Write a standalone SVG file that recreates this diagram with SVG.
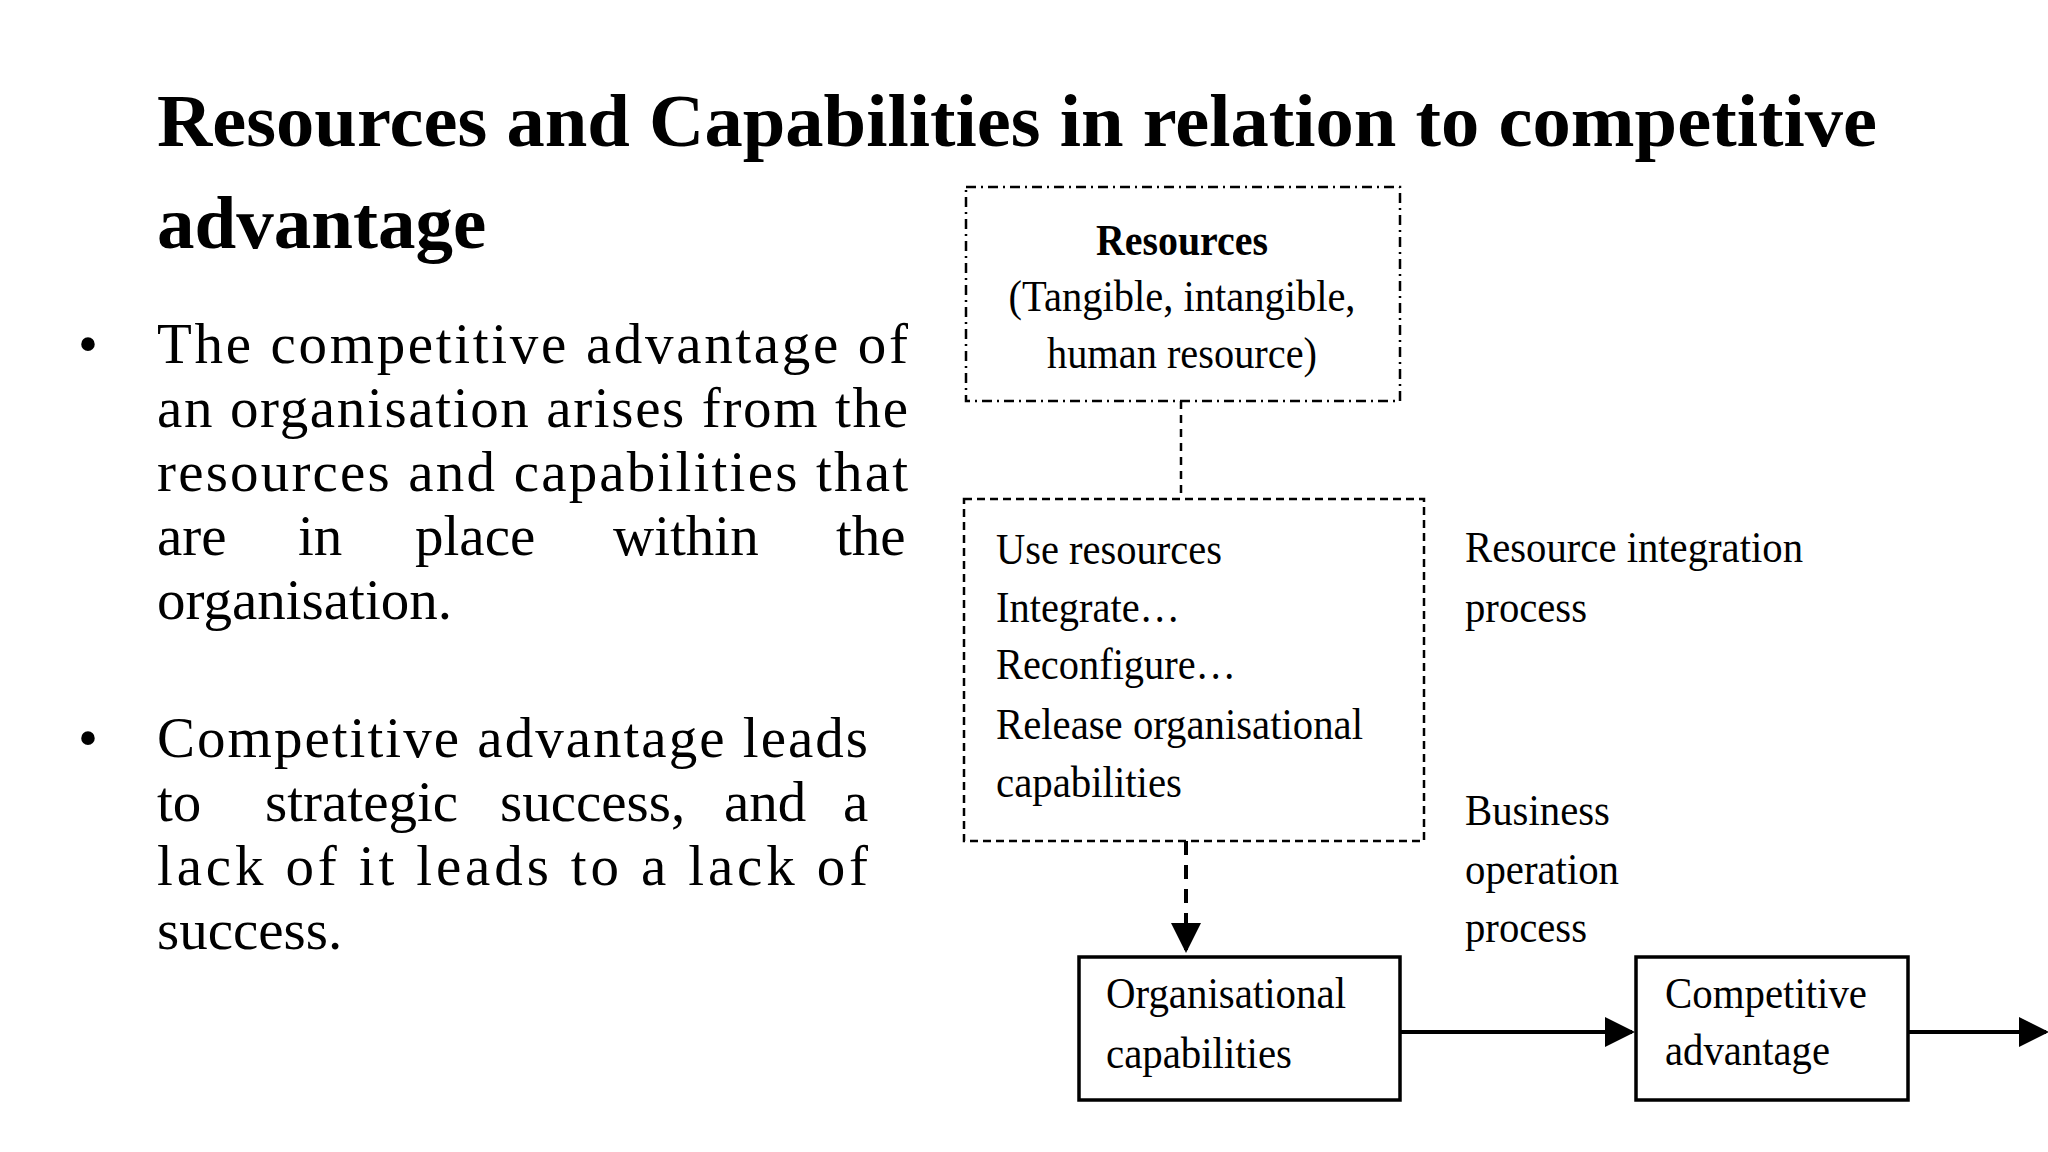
<svg xmlns="http://www.w3.org/2000/svg" width="2048" height="1152" viewBox="0 0 2048 1152">
<style>
.t{font-family:"Liberation Serif",serif;fill:#000}
.title{font-size:75px;font-weight:bold}
.body{font-size:57px}
.d{font-size:44px}
.box{fill:none;stroke:#000}
</style>
<defs>
<marker id="ah2" viewBox="0 0 10 10" refX="9" refY="5" markerWidth="30" markerHeight="30" orient="auto" markerUnits="userSpaceOnUse"><path d="M0,0L10,5L0,10z" fill="#000"/></marker></defs>
<rect width="2048" height="1152" fill="#fff"/>
<g id="title"><text class="t title" x="157" y="146" textLength="1720" lengthAdjust="spacingAndGlyphs">Resources and Capabilities in relation to competitive</text><text class="t title" x="157" y="248">advantage</text></g>
<g id="bullets">
<text class="t body" x="78" y="363">•</text>
<text class="t body" x="157" y="363" textLength="751" lengthAdjust="spacing">The competitive advantage of</text>
<text class="t body" x="157" y="427" textLength="751" lengthAdjust="spacing">an  organisation arises from the</text>
<text class="t body" x="157" y="491" textLength="751" lengthAdjust="spacing">resources and capabilities that</text>
<text class="t body" y="555"><tspan x="157">are</tspan><tspan x="298">in</tspan><tspan x="415">place</tspan><tspan x="613">within</tspan><tspan x="836">the</tspan></text>
<text class="t body" x="157" y="619">organisation.</text>
<text class="t body" x="78" y="757">•</text>
<text class="t body" x="157" y="757" textLength="711" lengthAdjust="spacing">Competitive advantage leads</text>
<text class="t body" y="821"><tspan x="157">to</tspan><tspan x="265">strategic</tspan><tspan x="500">success,</tspan><tspan x="724">and</tspan><tspan x="843">a</tspan></text>
<text class="t body" x="157" y="885" textLength="711" lengthAdjust="spacing">lack of it  leads to a lack of</text>
<text class="t body" x="157" y="949">success.</text>
</g>
<g id="connectors" stroke="#000" fill="none">
<line x1="1181" y1="401" x2="1181" y2="499" stroke-width="2.5" stroke-dasharray="8,6"/>
<line x1="1186" y1="841" x2="1186" y2="950" stroke-width="4" stroke-dasharray="14,10" marker-end="url(#ah2)"/>
<line x1="1400" y1="1032" x2="1632" y2="1032" stroke-width="4" marker-end="url(#ah2)"/>
<line x1="1908" y1="1032" x2="2046" y2="1032" stroke-width="4" marker-end="url(#ah2)"/>
</g>
<g id="resources"><rect class="box" x="966" y="187" width="434" height="214" stroke-width="2.5" stroke-dasharray="10,5,2,5"/>
<text class="t d" x="1182" y="255" text-anchor="middle" font-weight="bold" textLength="172" lengthAdjust="spacingAndGlyphs">Resources</text>
<text class="t d" x="1182" y="311" text-anchor="middle" textLength="347" lengthAdjust="spacingAndGlyphs">(Tangible, intangible,</text>
<text class="t d" x="1182" y="368" text-anchor="middle" textLength="270" lengthAdjust="spacingAndGlyphs">human resource)</text></g>
<g id="process"><rect class="box" x="964" y="499" width="460" height="342" stroke-width="2.5" stroke-dasharray="8,5"/>
<text class="t d" x="996" y="564" textLength="226" lengthAdjust="spacingAndGlyphs">Use resources</text>
<text class="t d" x="996" y="622" textLength="184" lengthAdjust="spacingAndGlyphs">Integrate…</text>
<text class="t d" x="996" y="679" textLength="240" lengthAdjust="spacingAndGlyphs">Reconfigure…</text>
<text class="t d" x="996" y="739" textLength="367" lengthAdjust="spacingAndGlyphs">Release organisational</text>
<text class="t d" x="996" y="797" textLength="186" lengthAdjust="spacingAndGlyphs">capabilities</text></g>
<g id="labels">
<text class="t d" x="1465" y="562" textLength="338" lengthAdjust="spacingAndGlyphs">Resource integration</text>
<text class="t d" x="1465" y="622" textLength="122" lengthAdjust="spacingAndGlyphs">process</text>
<text class="t d" x="1465" y="825" textLength="145" lengthAdjust="spacingAndGlyphs">Business</text>
<text class="t d" x="1465" y="884" textLength="154" lengthAdjust="spacingAndGlyphs">operation</text>
<text class="t d" x="1465" y="942" textLength="122" lengthAdjust="spacingAndGlyphs">process</text></g>
<g id="orgcap"><rect class="box" x="1079" y="957" width="321" height="143" stroke-width="3.5"/>
<text class="t d" x="1106" y="1008" textLength="240" lengthAdjust="spacingAndGlyphs">Organisational</text>
<text class="t d" x="1106" y="1068" textLength="186" lengthAdjust="spacingAndGlyphs">capabilities</text></g>
<g id="compadv"><rect class="box" x="1636" y="957" width="272" height="143" stroke-width="3.5"/>
<text class="t d" x="1665" y="1008" textLength="202" lengthAdjust="spacingAndGlyphs">Competitive</text>
<text class="t d" x="1665" y="1065" textLength="165" lengthAdjust="spacingAndGlyphs">advantage</text></g>
</svg>
